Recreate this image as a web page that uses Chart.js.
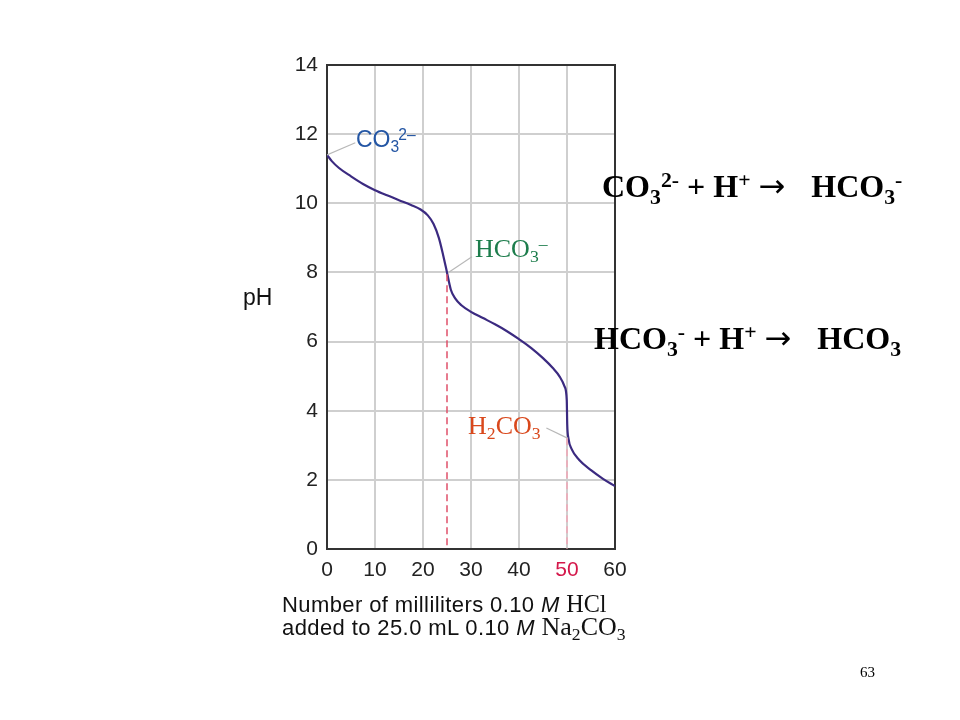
<!DOCTYPE html>
<html>
<head>
<meta charset="utf-8">
<script src="https://cdn.jsdelivr.net/npm/chart.js@4.4.0/dist/chart.umd.min.js"></script>
<style>
  body { margin: 0; background: #fff; }
  #wrap { position: relative; width: 960px; height: 720px; overflow: hidden; }
  #chart { position: absolute; left: 0; top: 0; }
  .lbl { position: absolute; white-space: nowrap; line-height: 1; }
  .sans { font-family: "Liberation Sans", Arial, sans-serif; }
  .serif { font-family: "Liberation Serif", "Times New Roman", serif; }
  .sub { font-size: 0.68em; position: relative; top: 0.3em; }
  .sup { font-size: 0.68em; position: relative; top: -0.45em; }
  .eq { font-family: "Liberation Serif", "Times New Roman", serif; font-weight: bold; font-size: 32px; color: #000; }
  .arr { font-family: "DejaVu Sans", sans-serif; font-weight: normal; font-size: 1.0em; margin: 0 26px 0 8px; }
  .xt { font-size: 22px; color: #111; letter-spacing: 0.4px; }
  .xt .serif { letter-spacing: 0; }
</style>
</head>
<body>
<div id="wrap">
  <canvas id="chart" width="960" height="720"></canvas>

  <div class="lbl sans" style="left:243px; top:286px; font-size:23px; color:#111;">pH</div>

  <div class="lbl sans" style="left:356px; top:128px; font-size:23px; color:#2456a4;">CO<span class="sub">3</span><span class="sup" style="margin-left:-1px">2–</span></div>
  <div class="lbl serif" style="left:475px; top:236px; font-size:26px; color:#1d7d4c;">HCO<span class="sub">3</span><span class="sup">–</span></div>
  <div class="lbl serif" style="left:468px; top:413px; font-size:26px; color:#d9481c;">H<span class="sub">2</span>CO<span class="sub">3</span></div>

  <div class="lbl sans xt" style="left:282px; top:592px;">Number of milliliters 0.10 <i>M</i> <span class="serif" style="font-size:1.1em">HCl</span></div>
  <div class="lbl sans xt" style="left:282px; top:614px;">added to 25.0 mL 0.10 <i>M</i> <span class="serif" style="font-size:1.18em">Na<span class="sub">2</span>CO<span class="sub">3</span></span></div>

  <div class="lbl eq" style="left:602px; top:170px;">CO<span class="sub">3</span><span class="sup">2-</span> + H<span class="sup">+</span><span class="arr">&rarr;</span>HCO<span class="sub">3</span><span class="sup">-</span></div>
  <div class="lbl eq" style="left:594px; top:322px;">HCO<span class="sub">3</span><span class="sup">-</span> + H<span class="sup">+</span><span class="arr">&rarr;</span>HCO<span class="sub">3</span></div>

  <div class="lbl serif" style="left:860px; top:665px; font-size:15px; color:#000;">63</div>
</div>
<script>
// titration curve: mL of 0.10 M HCl vs pH
const volumes = [0, 1, 2.5, 5, 7.5, 10, 12.5, 15, 17.5, 19.5, 21, 22.2, 23.3, 24.2, 25, 25.8, 26.7, 28, 30, 32.5, 35, 37.5, 40, 42.5, 45, 47, 48.5, 49.5, 49.95, 50.05, 50.3, 51, 52.5, 55, 57.5, 60];
const phValues = [11.4, 11.22, 11.02, 10.78, 10.56, 10.38, 10.23, 10.09, 9.95, 9.82, 9.65, 9.4, 9.0, 8.5, 8.0, 7.5, 7.25, 7.05, 6.86, 6.68, 6.5, 6.3, 6.07, 5.82, 5.52, 5.24, 4.98, 4.7, 4.3, 3.6, 3.2, 2.88, 2.58, 2.28, 2.03, 1.82];

// equivalence points (dashed drop lines)
const eqVolumes = [25, 50];
const eqPh = [7.95, 3.2];

// leader lines from labels to the curve [x1, y1, x2, y2]
const leaderCO3 = [0, 11.4, 5.9, 11.75];
const leaderHCO3 = [25.3, 8.0, 30.2, 8.45];
const leaderH2CO3 = [45.7, 3.5, 50.2, 3.2];

const xTicks = [0, 10, 20, 30, 40, 50, 60];
const yTicks = [0, 2, 4, 6, 8, 10, 12, 14];

const curve = volumes.map((v, i) => ({ x: v, y: phValues[i] }));
const seg = a => [{ x: a[0], y: a[1] }, { x: a[2], y: a[3] }];

const frame = {
  id: 'frame',
  beforeDatasetsDraw(chart) {
    const { ctx, chartArea: a } = chart;
    ctx.save();
    ctx.strokeStyle = '#333';
    ctx.lineWidth = 2;
    ctx.strokeRect(a.left, a.top, a.right - a.left, a.bottom - a.top);
    ctx.restore();
  }
};

new Chart(document.getElementById('chart'), {
  type: 'line',
  data: {
    datasets: [
      { data: [{ x: eqVolumes[0], y: eqPh[0] }, { x: eqVolumes[0], y: 0 }], borderColor: '#e0506a', borderWidth: 1.5, borderDash: [7, 4], pointRadius: 0 },
      { data: [{ x: eqVolumes[1], y: eqPh[1] }, { x: eqVolumes[1], y: 0 }], borderColor: '#f2a6b6', borderWidth: 1.5, borderDash: [7, 4], pointRadius: 0 },
      { data: seg(leaderCO3), borderColor: '#b8b8b8', borderWidth: 1.2, pointRadius: 0 },
      { data: seg(leaderHCO3), borderColor: '#b8b8b8', borderWidth: 1.2, pointRadius: 0 },
      { data: seg(leaderH2CO3), borderColor: '#b8b8b8', borderWidth: 1.2, pointRadius: 0 },
      { data: curve, borderColor: '#3b2a80', borderWidth: 2.2, pointRadius: 0, cubicInterpolationMode: 'monotone' }
    ]
  },
  options: {
    responsive: false,
    animation: false,
    devicePixelRatio: 1,
    layout: { padding: { left: 287, top: 65, right: 345, bottom: 131 } },
    plugins: { legend: { display: false }, tooltip: { enabled: false } },
    scales: {
      x: {
        type: 'linear', min: 0, max: 60,
        afterBuildTicks: s => { s.ticks = xTicks.map(v => ({ value: v })); },
        afterFit: s => { s.height = 40; },
        grid: { color: '#cfcfcf', lineWidth: 2, drawTicks: false },
        border: { display: false },
        ticks: {
          padding: 9,
          font: { family: 'Liberation Sans', size: 21 },
          color: c => c.tick.value === 50 ? '#d4174a' : '#222',
          maxRotation: 0
        }
      },
      y: {
        type: 'linear', min: 0, max: 14,
        afterBuildTicks: s => { s.ticks = yTicks.map(v => ({ value: v })); },
        afterFit: s => { s.width = 40; },
        grid: { color: '#cfcfcf', lineWidth: 2, drawTicks: false },
        border: { display: false },
        ticks: {
          padding: 9,
          font: { family: 'Liberation Sans', size: 21 },
          color: '#222'
        }
      }
    }
  },
  plugins: [frame]
});
</script>
</body>
</html>
